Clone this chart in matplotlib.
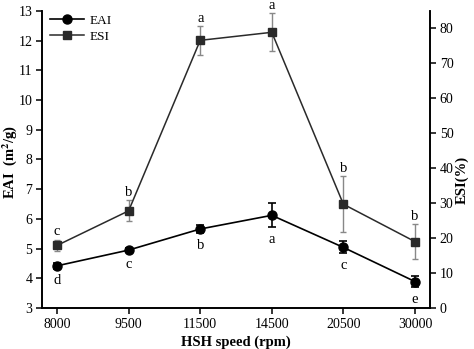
import matplotlib
matplotlib.use("Agg")
import matplotlib.pyplot as plt
import numpy as np

categories = ["8000", "9500", "11500", "14500", "20500", "30000"]
eai = [4.42, 4.95, 5.66, 6.12, 5.04, 3.89]
eai_err = [0.10, 0.08, 0.15, 0.40, 0.20, 0.20]
eai_letters = ["d", "c", "b", "a", "c", "e"]
esi = [17.9, 27.8, 76.6, 78.9, 29.7, 19.0]
esi_err = [1.6, 3.0, 4.1, 5.4, 8.0, 4.9]
esi_letters = ["c", "b", "a", "a", "b", "b"]

plt.rcParams['font.family'] = ['Liberation Serif', 'DejaVu Serif']
plt.rcParams['mathtext.fontset'] = 'stix'

fig = plt.figure(figsize=(4.74, 3.49), dpi=100)
ax = fig.add_axes([0.0886, 0.1175, 0.8186, 0.851])
ax2 = ax.twinx()

x = np.arange(len(categories))

h1 = ax.errorbar(x, eai, yerr=eai_err, color='black', marker='o', markersize=6.5,
                 lw=1.2, elinewidth=1.2, capsize=3, capthick=1.2, ecolor='black', label='EAI', zorder=3)
h2 = ax2.errorbar(x, esi, yerr=esi_err, color='#2a2a2a', marker='s', markersize=5.5,
                  lw=1.1, elinewidth=1.0, capsize=2.5, capthick=1.0, ecolor='#888888', label='ESI', zorder=3)

for xi, v, e, t in zip(x, eai, eai_err, eai_letters):
    ax.annotate(t, (xi, v - e), xytext=(0, -12), textcoords='offset pixels',
                ha='center', va='center', fontsize=10.5)
for xi, v, e, t in zip(x, esi, esi_err, esi_letters):
    ax2.annotate(t, (xi, v + e), xytext=(0, 8), textcoords='offset pixels',
                 ha='center', va='center', fontsize=10.5)

ax.set_xlim(-0.21, 5.21)
ax.set_ylim(3, 13)
ax2.set_ylim(0, 85)
ax.set_xticks(x)
ax.set_xticklabels(categories)
ax.set_yticks(np.arange(3, 14, 1))
ax2.set_yticks(np.arange(0, 81, 10))

for a in (ax, ax2):
    a.spines['top'].set_visible(False)
    for s in a.spines.values():
        s.set_linewidth(1.2)
    a.tick_params(direction='out', length=4, width=1.1, labelsize=10, pad=3)

ax.set_xlabel('HSH speed (rpm)', fontsize=10.5, fontweight='bold')
ax.xaxis.set_label_coords(0.5, -0.092)
ax.set_ylabel(r'EAI  (m$^{\mathbf{2}}$/g)', fontsize=10.5, fontweight='bold')
ax.yaxis.set_label_coords(-0.058, 0.49)
ax2.set_ylabel('ESI(%)', fontsize=10.5, fontweight='bold')
ax2.yaxis.set_label_coords(1.064, 0.43)

leg = ax2.legend([h1[0], h2[0]], ['EAI', 'ESI'], loc='upper left', frameon=False,
                 fontsize=9.5, handlelength=2.6, borderaxespad=0.2, labelspacing=0.3,
                 handletextpad=0.4, bbox_to_anchor=(0.0, 1.015))

fig.savefig('out.png', dpi=100)
